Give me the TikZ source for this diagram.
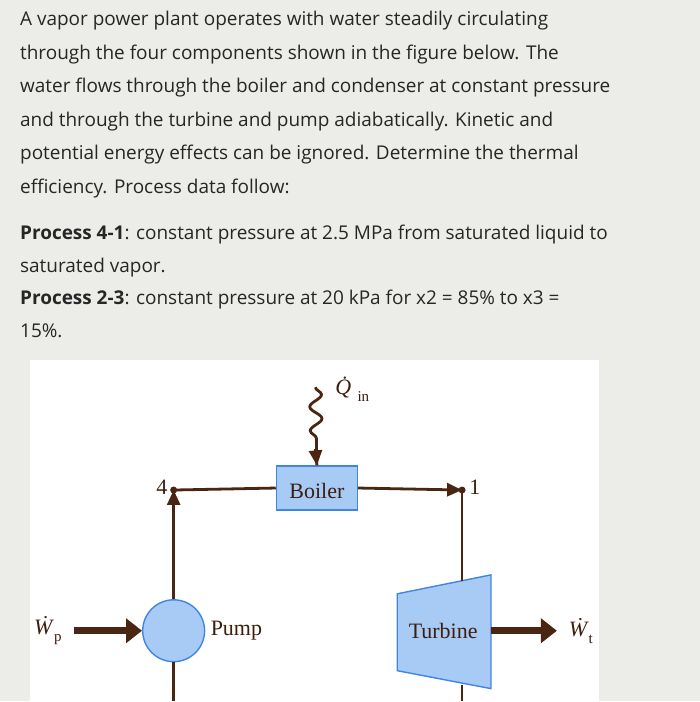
\documentclass[tikz,border=0pt]{standalone}
\usepackage{fontspec}
\setmainfont{Open Sans}
\newfontfamily\figfont{Liberation Serif}
\usetikzlibrary{decorations.pathmorphing,arrows.meta,shapes.geometric}
\definecolor{bg}{HTML}{ECECE9}
\definecolor{pipe}{HTML}{4A2511}
\definecolor{fill}{HTML}{A8CBF5}
\definecolor{edge}{HTML}{3F86E0}
\newcommand{\subtxt}[1]{\raisebox{-0.3em}{\fontsize{15}{15}\selectfont #1}}
\begin{document}
\begin{tikzpicture}[x=1pt,y=-1pt,
  txt/.style={anchor=base west,inner sep=0,font=\fontsize{19}{19}\selectfont,text=black!85},
  fig/.style={font=\figfont\fontsize{22}{22}\selectfont,text=pipe!80!black,inner sep=0},
  pipeline/.style={draw=pipe,line width=2.8pt},
  big/.style={draw=pipe,line width=7pt,-{Triangle[length=16pt,width=24pt]}},
  comp/.style={fill=fill,draw=edge,line width=1.4pt}]
\fill[bg] (0,0) rectangle (701,702);
\fill[white] (30,361) rectangle (600,702);
\node[txt] (l1) at (20,26) {A vapor power plant operates with water steadily circulating};
\node[txt] (l2) at (20,59.5) {through the four components shown in the figure below. The};
\node[txt] (l3) at (20,93) {water flows through the boiler and condenser at constant pressure};
\node[txt] (l4) at (20,126.5) {and through the turbine and pump adiabatically. Kinetic and};
\node[txt] (l5) at (20,160) {potential energy effects can be ignored. Determine the thermal};
\node[txt] (l6) at (20,193.5) {efficiency. Process data follow:};
\node[txt] (l7) at (20,240) {\textbf{Process 4-1}: constant pressure at 2.5 MPa from saturated liquid to};
\node[txt] (l8) at (20,273) {saturated vapor.};
\node[txt] (l9) at (20,305) {\textbf{Process 2-3}: constant pressure at 20 kPa for x2 = 85\% to x3 =};
\node[txt] (l10) at (20,338) {15\%.};
% components
\node[comp,minimum width=81pt,minimum height=44pt,inner sep=0] (boiler) at (317.5,489) {};
\node[fig] at (317.5,492) {Boiler};
\node[comp,circle,minimum size=62pt,inner sep=0] (pump) at (174,632) {};
\node[fig,anchor=west] (pl) at (211,632) {Pump};
\draw[comp] (398,595) -- (492,576) -- (492,690) -- (398,672) -- cycle;
\coordinate (tin) at (463,582);
\coordinate (tout) at (463,686);
\coordinate (tr) at (492,632);
\node[fig] (tl) at (444,632) {Turbine};
\coordinate (p4) at (174,491);
\coordinate (p1) at (463,491);
\fill[pipe] (p4) circle (3.5) (p1) circle (3.5);
\node[fig,anchor=east] at (168,488) {4};
\node[fig,anchor=west] at (470,488) {1};
\draw[pipeline] (p4) -- (boiler.west);
\draw[pipeline,-{Triangle[length=15pt,width=13pt]}] (boiler.east) -- (p1);
\draw[pipeline] (p1) -- (tin);
\draw[pipeline,-{Triangle[length=15pt,width=13pt]}] (pump.north) -- (p4);
\draw[pipeline] (pump.south) -- (174,702);
\draw[pipeline] (tout) -- (463,702);
% work arrows
\coordinate (wps) at (74,632);
\draw[big] (wps) -- (pump.west);
\node[fig] at (48,632) {\textit{\.W}\subtxt{p}};
\coordinate (wte) at (558,632);
\draw[big] (tr) -- (wte);
\node[fig] at (582,632) {\textit{\.W}\subtxt{t}};
% heat
\coordinate (qs) at (316,388);
\draw[pipeline,decorate,decoration={snake,amplitude=6pt,segment length=24pt,post length=16pt}] (qs) -- (boiler.north);
\draw[pipeline,-{Triangle[length=15pt,width=13pt]}] (316,450) -- (boiler.north);
\node[fig] at (353,390) {\textit{\.Q}\subtxt{in}};
\end{tikzpicture}
\end{document}
